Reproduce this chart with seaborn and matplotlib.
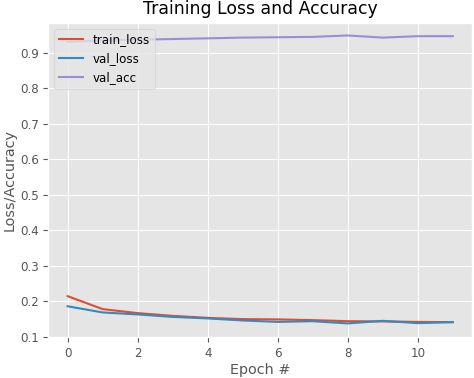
import matplotlib
matplotlib.use("Agg")
import matplotlib.pyplot as plt
import seaborn as sns

epochs = list(range(12))
train_loss = [0.2145, 0.178, 0.1667, 0.159, 0.1534, 0.1498, 0.149, 0.147, 0.144, 0.1433, 0.142, 0.1413]
val_loss = [0.186, 0.1686, 0.163, 0.156, 0.1518, 0.146, 0.142, 0.144, 0.1377, 0.145, 0.1385, 0.1413]
val_acc = [0.930, 0.934, 0.936, 0.938, 0.940, 0.942, 0.943, 0.944, 0.948, 0.942, 0.946, 0.946]

plt.style.use("ggplot")
plt.rcParams["font.size"] = 8.6

fig = plt.figure(figsize=(4.74, 3.78), dpi=100)
ax = fig.add_axes([0.102, 0.108, 0.894, 0.832])

sns.lineplot(x=epochs, y=train_loss, label="train_loss", color="#E24A33", ax=ax)
sns.lineplot(x=epochs, y=val_loss, label="val_loss", color="#348ABD", ax=ax)
sns.lineplot(x=epochs, y=val_acc, label="val_acc", color="#988ED5", ax=ax)

ax.set_ylim(0.099, 0.984)
ax.set_title("Training Loss and Accuracy")
ax.set_xlabel("Epoch #", labelpad=2)
ax.set_ylabel("Loss/Accuracy", labelpad=2)
ax.legend(loc="upper left")

fig.savefig("out.png", dpi=100)
